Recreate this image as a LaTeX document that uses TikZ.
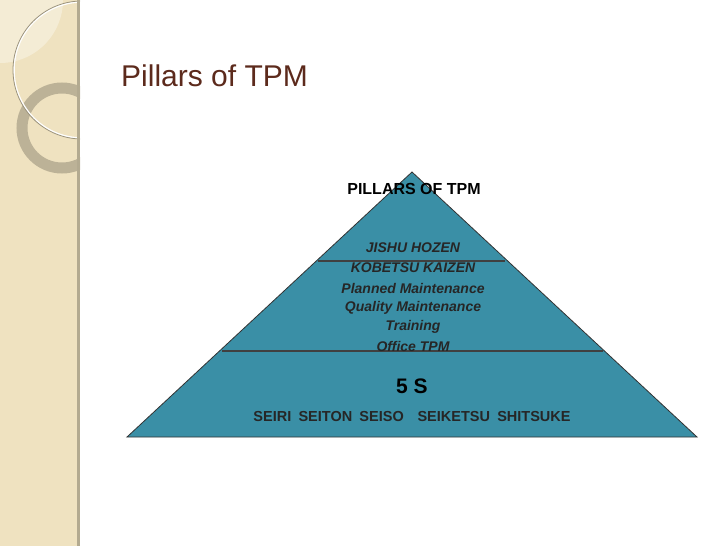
\documentclass[tikz,border=0pt]{standalone}
\usepackage{fontspec}
\setmainfont{Liberation Sans}
\begin{document}
\begin{tikzpicture}[x=1pt,y=-1pt,
  lbl/.style={font=\fontsize{14}{16}\selectfont\bfseries\itshape, text=black!85, inner sep=0},
  band/.style={draw=black!75, line width=1.6pt}]
\definecolor{beige}{HTML}{EFE2C0}
\definecolor{teal}{HTML}{3A8FA6}
\definecolor{brown}{HTML}{5C2A1C}
\useasboundingbox (0,0) rectangle (728,546);
\fill[white] (0,0) rectangle (728,546);
\begin{scope}
\clip (0,0) rectangle (80,546);
\fill[beige] (0,0) rectangle (80,546);
\fill[white,opacity=0.35] (0,0) circle (63);
\draw[black!30!beige, line width=11pt, opacity=0.7] (62,128) circle (40);
\draw[white, line width=1.5pt] (82,70) circle (68);
\draw[black!35!beige, line width=0.8pt] (82,70) circle (69);
\end{scope}
\fill[black!25!beige] (77,0) rectangle (80,546);
\node[anchor=base west, text=brown, font=\fontsize{30}{34}\selectfont, inner sep=0] (title) at (121,86) {Pillars of TPM};
\coordinate (apex) at (412,172);
\coordinate (bl) at (127,437);
\coordinate (br) at (697,437);
\fill[teal, draw=black!80, line width=0.8pt] (apex) -- (br) -- (bl) -- cycle;
\draw[band] (318,261) -- (505,261);
\draw[band] (222,351) -- (603,351);
\node[font=\fontsize{16}{18}\selectfont\bfseries, inner sep=0] (head) at (414,189) {PILLARS OF TPM};
\node[lbl] (l1) at (413,248) {JISHU HOZEN};
\node[lbl] (l2) at (413,268) {KOBETSU KAIZEN};
\node[lbl] (l3) at (413,288) {Planned Maintenance};
\node[lbl] (l4) at (413,308) {Quality Maintenance};
\node[lbl] (l5) at (413,327) {Training};
\node[lbl] (l6) at (413,346) {Office TPM};
\node[font=\fontsize{21}{24}\selectfont\bfseries, inner sep=0] (fs) at (412,386) {5 S};
\node[font=\fontsize{14.5}{16}\selectfont\bfseries, inner sep=0, text=black!85] (ss) at (412,417) {SEIRI\enspace SEITON\enspace SEISO\enspace\, SEIKETSU\enspace SHITSUKE};
\end{tikzpicture}
\end{document}
